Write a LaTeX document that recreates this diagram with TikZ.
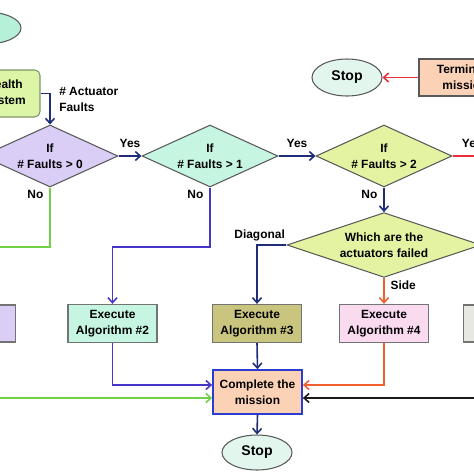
\documentclass[tikz,border=0pt]{standalone}
\usepackage{fontspec}
\setmainfont{Liberation Sans}
\usetikzlibrary{shapes.geometric,arrows.meta,calc}
\definecolor{navyln}{HTML}{1F2C78}
\definecolor{indigoln}{HTML}{4636C8}
\definecolor{greenln}{HTML}{70D048}
\definecolor{orangeln}{HTML}{F0602E}
\definecolor{redln}{HTML}{E8303C}
\definecolor{blueedge}{HTML}{2C3CD0}
\definecolor{healthedge}{HTML}{7E9468}
\definecolor{mintfill}{HTML}{C6F5E2}
\definecolor{lavfill}{HTML}{DACDF6}
\definecolor{limefill}{HTML}{E4F3A2}
\definecolor{healthfill}{HTML}{DDF5A6}
\definecolor{olivefill}{HTML}{C9C47E}
\definecolor{pinkfill}{HTML}{F9DAEE}
\definecolor{greyfill}{HTML}{E8E8E2}
\definecolor{peachfill}{HTML}{FBD2B6}
\definecolor{stopfill}{HTML}{E2F6EE}
\definecolor{startfill}{HTML}{B6F0D8}

\begin{document}
\begin{tikzpicture}[
  x=0.02cm, y=-0.02cm,
  font=\fontsize{6.8pt}{9pt}\selectfont\bfseries,
  procbox/.style={rectangle, draw=black!55, line width=0.6pt, fill=#1, minimum width=1.78cm, minimum height=0.74cm, align=center},
  decision/.style={diamond, draw=black!65, line width=0.6pt, fill=#1, aspect=2.2, inner sep=0pt, minimum width=2.72cm, minimum height=1.24cm, align=center},
  term/.style={ellipse, draw=black!65, line width=0.6pt, fill=#1, minimum width=1.4cm, minimum height=0.74cm, font=\fontsize{8pt}{10pt}\selectfont\bfseries},
  arr/.style={-{Straight Barb[length=1mm,width=1.8mm]}, line width=0.9pt, draw=#1},
  seg/.style={line width=0.9pt, draw=#1}
]
  \path[use as bounding box, fill=white] (0,0) rectangle (474,474);
  \clip (0,0) rectangle (474,474);

  % Start and health monitor
  \node[term=startfill, minimum height=0.64cm] (start) at (-14,28) {};
  \node[procbox=healthfill, draw=healthedge, rounded corners=3pt, minimum width=1.42cm, minimum height=0.94cm] (health) at (4.5,93.5) {Health\\System};

  % Fault checks
  \node[decision=lavfill] (d1) at (50,156) {If\\\# Faults > 0};
  \node[decision=mintfill] (d2) at (210,156) {If\\\# Faults > 1};
  \node[decision=limefill] (d3) at (384,156) {If\\\# Faults > 2};
  \node[decision=limefill, minimum width=3.88cm] (d4) at (384,245) {Which are the\\actuators failed};

  % Algorithms
  \node[procbox=lavfill] (alg1) at (-29,323.5) {};
  \foreach \n/\x/\c in {2/112.5/mintfill, 3/257/olivefill, 4/384/pinkfill} {
    \node[procbox=\c] (alg\n) at (\x,323.5) {Execute\\Algorithm \#\n};
  }
  \node[procbox=greyfill] (alg5) at (508,323.5) {};

  % End of mission
  \node[procbox=peachfill, draw=blueedge, line width=1pt, minimum height=0.88cm] (done) at (257.5,392) {Complete the\\mission};
  \node[term=stopfill, minimum height=0.7cm] (stopb) at (257,452.5) {Stop};
  \node[term=stopfill] (stopt) at (347,77.5) {Stop};
  \node[procbox=peachfill, draw=black!65, minimum width=1.84cm] (abort) at (465,77.5) {Terminate\\mission};

  \coordinate (k1) at (-29,247);
  \coordinate (k2) at (112.5,247);
  \coordinate (yesout) at (492,156);

  % Connections
  \draw[arr=redln] (abort.west) -- (stopt.east);
  \draw[arr=navyln] (health.east) -| node[pos=0.6, right=1.5pt, align=left] {\# Actuator\\Faults} (d1.north);
  \draw[arr=navyln] (d1.east) -- node[above=1pt] {Yes} (d2.west);
  \draw[arr=navyln] (d2.east) -- node[above=1pt] {Yes} (d3.west);
  \draw[seg=redln] (d3.east) -- node[above=1pt] {Yes} (yesout);
  \draw[arr=greenln] (d1.south) node[below left, yshift=2pt] {No} |- (k1) -- (alg1.north);
  \draw[arr=indigoln] (d2.south) node[below left, yshift=2pt] {No} |- (k2) -- (alg2.north);
  \draw[arr=navyln] (d3.south) node[below left, yshift=2pt] {No} -- (d4.north);
  \draw[arr=navyln] (d4.west) node[above left, xshift=0.1cm, yshift=-0.06cm] {Diagonal} -| (alg3.north);
  \draw[arr=orangeln] (d4.south) -- node[pos=0.28, right] {Side} (alg4.north);
  \draw[arr=greenln] (alg1.south) |- ($(done.west)+(0,6)$);
  \draw[arr=indigoln] (alg2.south) |- ($(done.west)+(0,-7)$);
  \draw[arr=navyln] (alg3.south) -- (done.north);
  \draw[arr=orangeln] (alg4.south) |- ($(done.east)+(0,-7)$);
  \draw[arr=black!90] (alg5.south) |- ($(done.east)+(0,6)$);
  \draw[arr=navyln] (done.south) -- (stopb.north);
\end{tikzpicture}
\end{document}
